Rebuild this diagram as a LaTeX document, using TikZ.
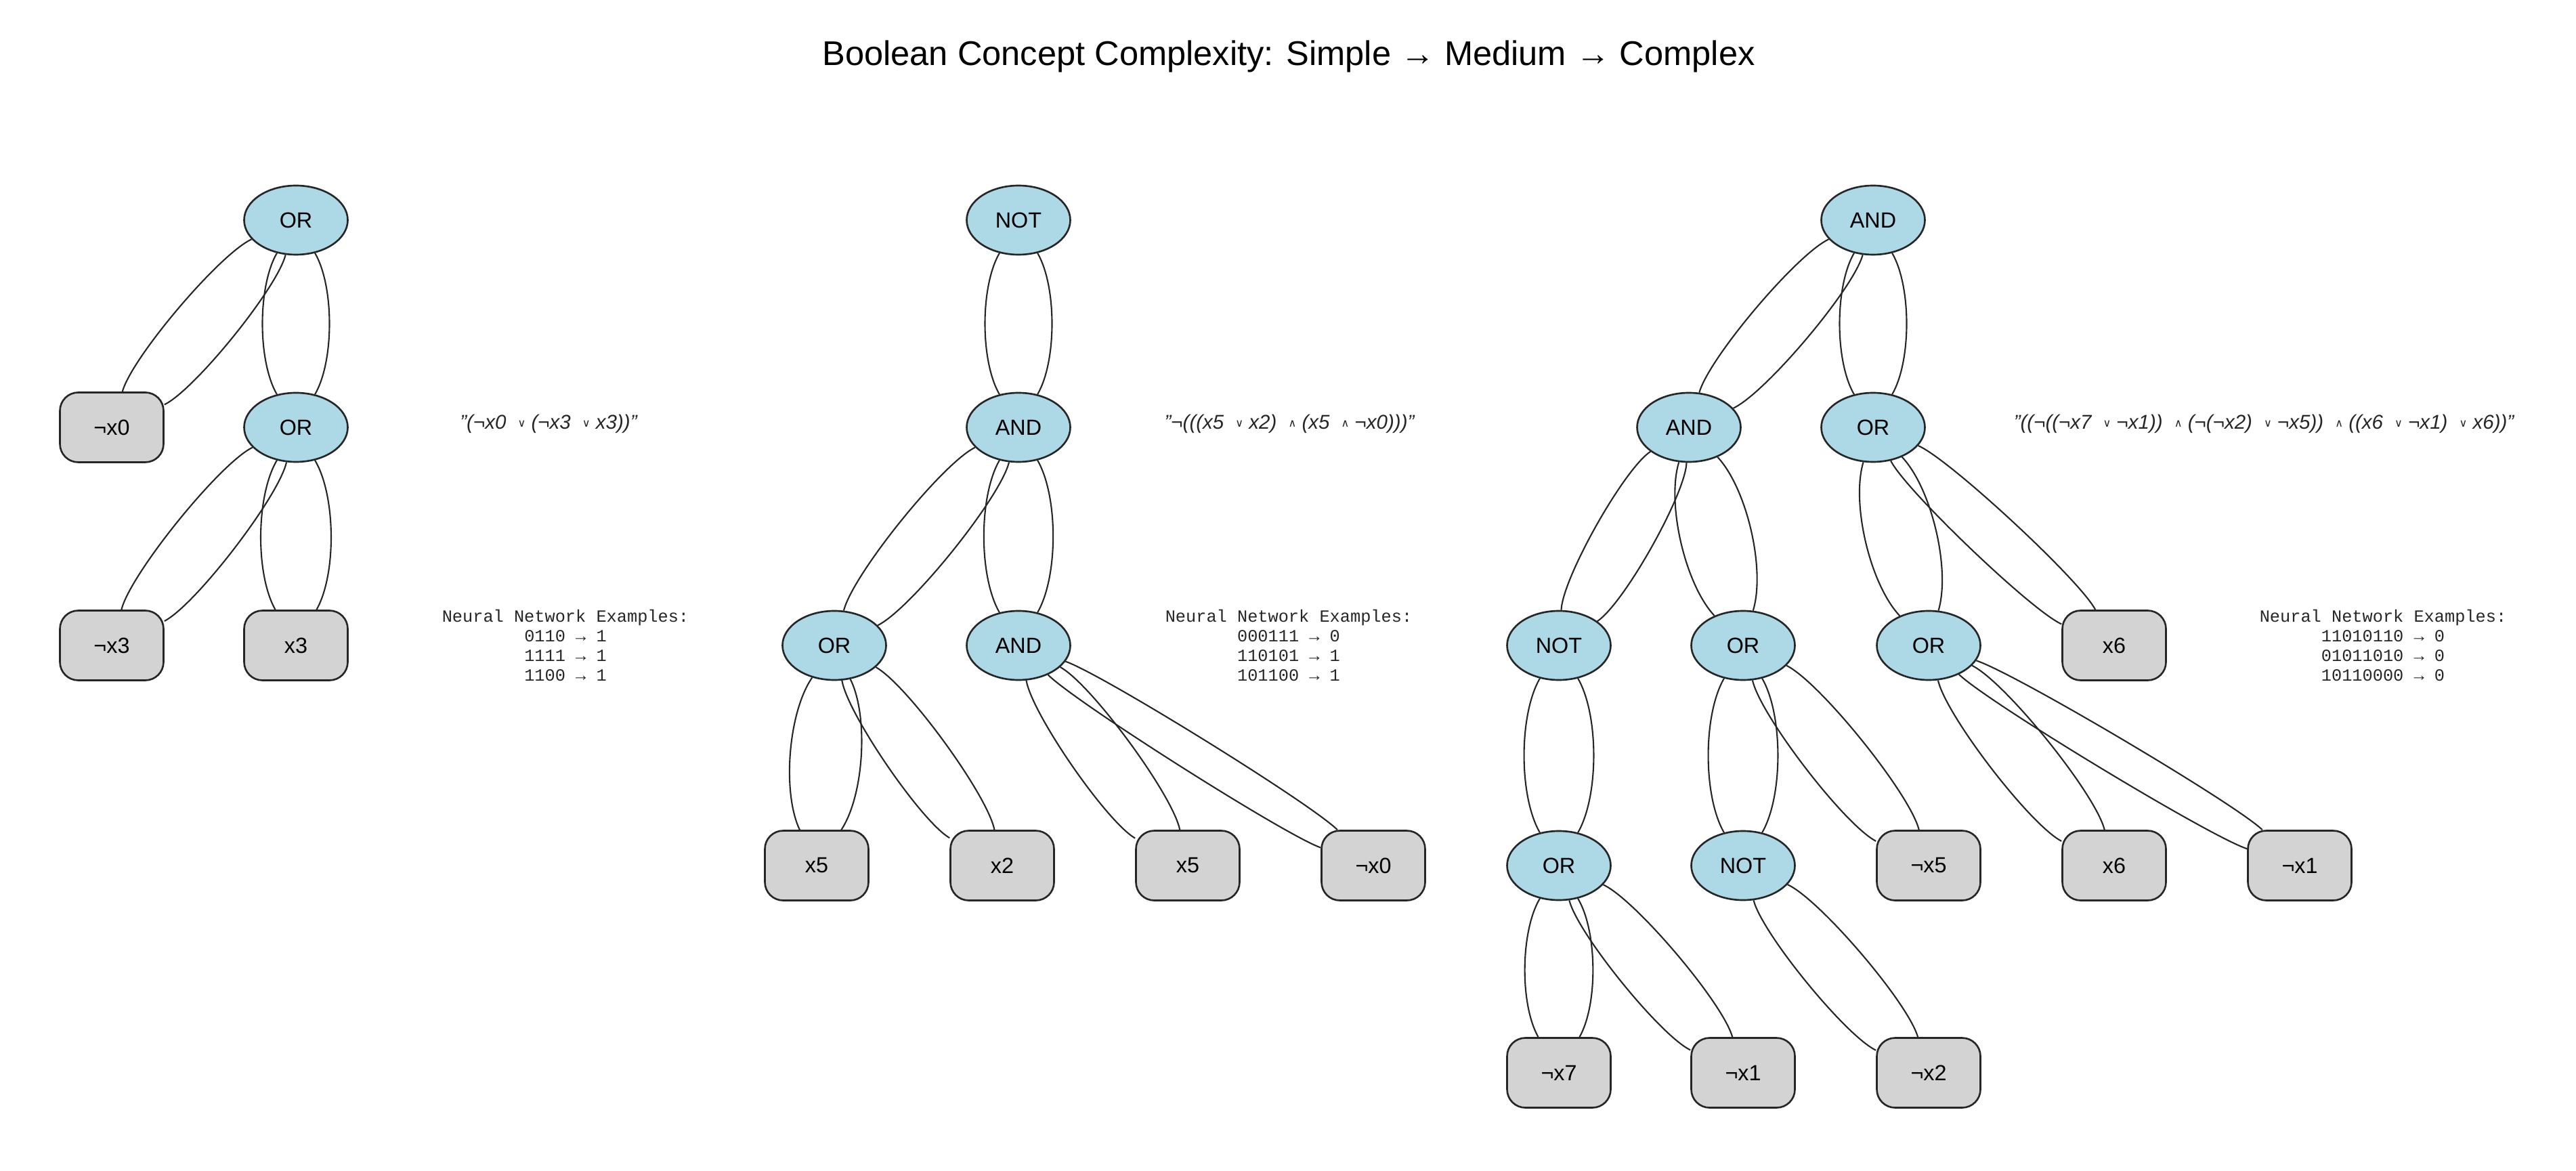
\documentclass[tikz,border=0pt]{standalone}
\usepackage{fontspec}
\setmainfont{Liberation Sans}
\newfontfamily\monofam{Liberation Mono}
\newfontfamily\symfam{DejaVu Sans}
\usetikzlibrary{shapes.geometric}

\definecolor{gatefill}{RGB}{173,216,230}
\definecolor{leaffill}{RGB}{211,211,211}

\newcommand{\OrMark}{\hspace{0.3em}\raisebox{1pt}{\symfam\fontsize{4.6}{5}\selectfont ∨}}
\newcommand{\AndMark}{\hspace{0.3em}\raisebox{1pt}{\symfam\fontsize{4.6}{5}\selectfont ∧}}

\tikzset{
  gate/.style={ellipse, draw=black!85, line width=0.75pt, fill=gatefill,
    minimum width=1.53cm, minimum height=1.02cm, inner sep=0pt,
    font=\fontsize{9.2}{11}\selectfont},
  leaf/.style={rectangle, rounded corners=0.27cm, draw=black!85, line width=0.75pt,
    fill=leaffill, minimum width=1.53cm, minimum height=1.03cm, inner sep=0pt,
    font=\fontsize{9.2}{11}\selectfont},
  link/.style={draw=black!85, line width=0.6pt},
  twinv/.style={link, looseness=0.7},
  twind/.style={link, looseness=0.45},
  twinm/.style={link, looseness=0.35},
  twinw/.style={link, looseness=0.3},
  formula/.style={font=\fontsize{8.4}{10}\selectfont\itshape, text=black!85},
  examples/.style={align=center, font=\monofam\fontsize{7.2}{8.25}\selectfont, text=black!85}
}

\begin{document}
\begin{tikzpicture}
\useasboundingbox (0,0) rectangle (38.04,17.28);

\node[font=\fontsize{14.4}{17}\selectfont] (title) at (19.03,16.45) {Boolean Concept Complexity: Simple → Medium → Complex};

% simple concept
\node[gate] (lor1) at (4.37,14.03) {OR};
\node[leaf] (lnx0) at (1.65,10.97) {¬x0};
\node[gate] (lor2) at (4.37,10.97) {OR};
\node[leaf] (lnx3) at (1.65,7.75) {¬x3};
\node[leaf] (lx3) at (4.37,7.75) {x3};
\node[formula] (lform) at (8.10,11.02) {"(¬x0 \OrMark{} (¬x3 \OrMark{} x3))"};
\node[examples] (lex) at (8.35,7.75) {Neural Network Examples:\\0110 → 1\\1111 → 1\\1100 → 1};

% medium concept
\node[gate] (mnot) at (15.04,14.03) {NOT};
\node[gate] (mand1) at (15.04,10.97) {AND};
\node[gate] (mor) at (12.32,7.75) {OR};
\node[gate] (mand2) at (15.04,7.75) {AND};
\node[leaf] (mx5a) at (12.06,4.50) {x5};
\node[leaf] (mx2) at (14.80,4.50) {x2};
\node[leaf] (mx5b) at (17.54,4.50) {x5};
\node[leaf] (mnx0) at (20.28,4.50) {¬x0};
\node[formula] (mform) at (19.04,11.02) {"¬(((x5 \OrMark{} x2) \AndMark{} (x5 \AndMark{} ¬x0)))"};
\node[examples] (mex) at (19.03,7.75) {Neural Network Examples:\\000111 → 0\\110101 → 1\\101100 → 1};

% complex concept
\node[gate] (rand0) at (27.66,14.03) {AND};
\node[gate] (rand1) at (24.94,10.97) {AND};
\node[gate] (ror1) at (27.66,10.97) {OR};
\node[gate] (rnot1) at (23.02,7.75) {NOT};
\node[gate] (ror2) at (25.74,7.75) {OR};
\node[gate] (ror3) at (28.48,7.75) {OR};
\node[leaf] (rx6a) at (31.22,7.75) {x6};
\node[gate] (ror4) at (23.02,4.50) {OR};
\node[gate] (rnot2) at (25.74,4.50) {NOT};
\node[leaf] (rnx5) at (28.48,4.50) {¬x5};
\node[leaf] (rx6b) at (31.22,4.50) {x6};
\node[leaf] (rnx1a) at (33.96,4.50) {¬x1};
\node[leaf] (rnx7) at (23.02,1.44) {¬x7};
\node[leaf] (rnx1b) at (25.74,1.44) {¬x1};
\node[leaf] (rnx2) at (28.48,1.44) {¬x2};
\node[formula] (rform) at (33.43,11.02) {"((¬((¬x7 \OrMark{} ¬x1)) \AndMark{} (¬(¬x2) \OrMark{} ¬x5)) \AndMark{} ((x6 \OrMark{} ¬x1) \OrMark{} x6))"};
\node[examples] (rex) at (35.19,7.75) {Neural Network Examples:\\11010110 → 0\\01011010 → 0\\10110000 → 0};

% every link is drawn twice
\draw[twind] (lor1) to[bend right=25] (lnx0) (lor1) to[bend left=25] (lnx0);
\draw[twinv] (lor1) to[bend right=30] (lor2) (lor1) to[bend left=30] (lor2);
\draw[twind] (lor2) to[bend right=25] (lnx3) (lor2) to[bend left=25] (lnx3);
\draw[twinv] (lor2) to[bend right=30] (lx3) (lor2) to[bend left=30] (lx3);

\draw[twinv] (mnot) to[bend right=30] (mand1) (mnot) to[bend left=30] (mand1);
\draw[twind] (mand1) to[bend right=25] (mor) (mand1) to[bend left=25] (mor);
\draw[twinv] (mand1) to[bend right=30] (mand2) (mand1) to[bend left=30] (mand2);
\draw[twinv] (mor) to[bend right=30] (mx5a) (mor) to[bend left=30] (mx5a);
\draw[twind] (mor) to[bend right=25] (mx2) (mor) to[bend left=25] (mx2);
\draw[twind] (mand2) to[bend right=25] (mx5b) (mand2) to[bend left=25] (mx5b);
\draw[twinw] (mand2) to[bend right=13] (mnx0) (mand2) to[bend left=13] (mnx0);

\draw[twind] (rand0) to[bend right=25] (rand1) (rand0) to[bend left=25] (rand1);
\draw[twinv] (rand0) to[bend right=30] (ror1) (rand0) to[bend left=30] (ror1);
\draw[twind] (rand1) to[bend right=27] (rnot1) (rand1) to[bend left=27] (rnot1);
\draw[twinv] (rand1) to[bend right=30] (ror2) (rand1) to[bend left=30] (ror2);
\draw[twinv] (ror1) to[bend right=30] (ror3) (ror1) to[bend left=30] (ror3);
\draw[twinm] (ror1) to[bend right=20] (rx6a) (ror1) to[bend left=20] (rx6a);
\draw[twinv] (rnot1) to[bend right=30] (ror4) (rnot1) to[bend left=30] (ror4);
\draw[twinv] (ror2) to[bend right=30] (rnot2) (ror2) to[bend left=30] (rnot2);
\draw[twind] (ror2) to[bend right=25] (rnx5) (ror2) to[bend left=25] (rnx5);
\draw[twind] (ror3) to[bend right=25] (rx6b) (ror3) to[bend left=25] (rx6b);
\draw[twinw] (ror3) to[bend right=13] (rnx1a) (ror3) to[bend left=13] (rnx1a);
\draw[twinv] (ror4) to[bend right=30] (rnx7) (ror4) to[bend left=30] (rnx7);
\draw[twind] (ror4) to[bend right=25] (rnx1b) (ror4) to[bend left=25] (rnx1b);
\draw[twind] (rnot2) to[bend right=25] (rnx2) (rnot2) to[bend left=25] (rnx2);

\end{tikzpicture}
\end{document}
